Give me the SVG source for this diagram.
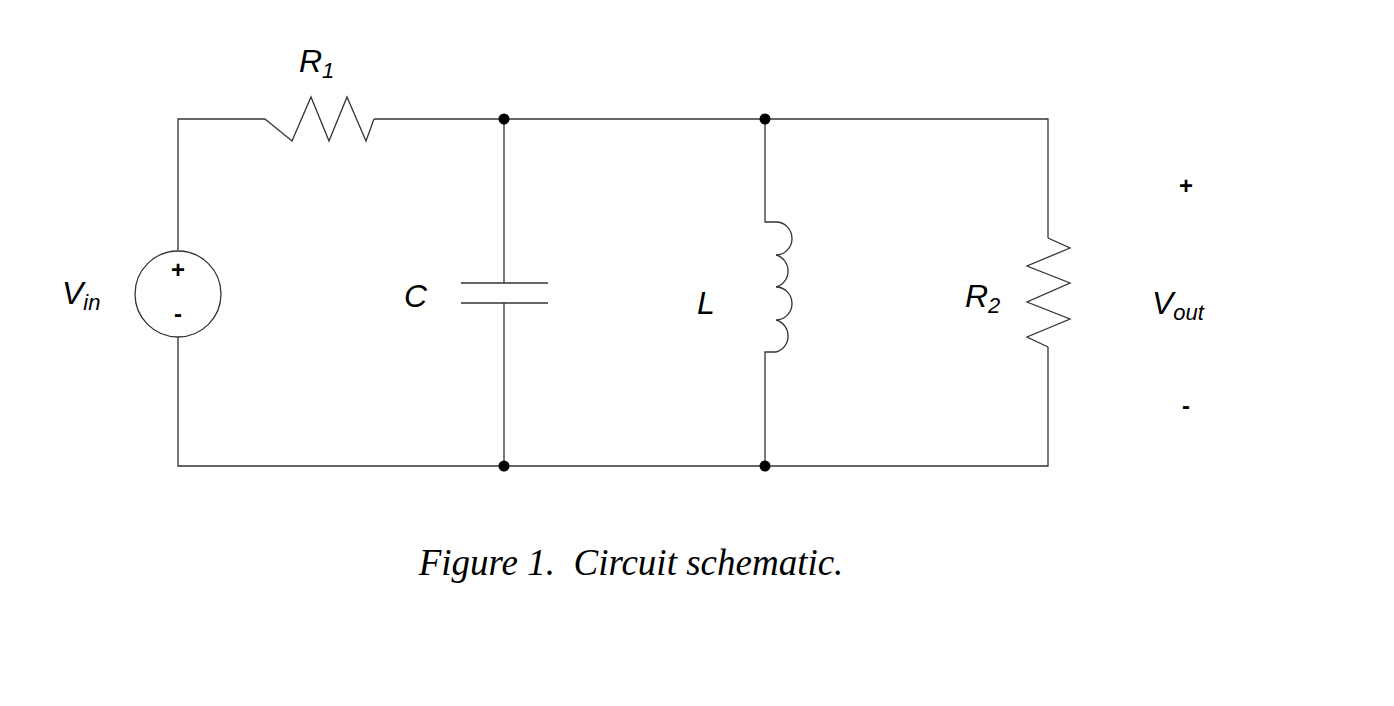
<svg xmlns="http://www.w3.org/2000/svg" width="1394" height="706" viewBox="0 0 1394 706">
<style>
.w{fill:none;stroke:#333;stroke-width:1.3}
.t{font-family:"Liberation Sans",Arial,sans-serif;font-style:italic;font-size:32px;fill:#000}
.s{font-family:"Liberation Sans",Arial,sans-serif;font-size:24px;fill:#000;font-weight:bold}
.d{fill:#000}
</style>
<rect width="1394" height="706" fill="#fff"/>
<g id="connectors">
<path class="w" d="M178,250 V119 H265 M374,119 H1048 V238 M1048,347 V466 H178 V337 M504,119 V283 M504,303 V466 M765,119 V222 H776 M776,352 H765 V466"/>
</g>
<g id="R1"><path class="w" d="M265,119 L292,141 L311,97 L329,141 L347,97 L366,141 L374,119"/><text class="t" x="299" y="72">R<tspan font-size="22" dy="6">1</tspan></text></g>
<g id="Vin"><circle class="w" cx="178" cy="294" r="43"/><text class="s" x="178" y="278" text-anchor="middle">+</text><text class="s" x="178" y="322" text-anchor="middle">-</text><text class="t" x="62" y="304">V<tspan font-size="22" dy="6">in</tspan></text></g>
<g id="C"><path class="w" d="M461,283 H548 M461,303 H548"/><text class="t" x="404" y="307">C</text></g>
<g id="L"><path class="w" d="M776,222 A16,16.5 0 0 1 776,255 A16,16.5 0 0 1 776,287 A16,16.5 0 0 1 776,320 A16,16.5 0 0 1 776,352"/><text class="t" x="697" y="314">L</text></g>
<g id="R2"><path class="w" d="M1048,238 L1070,248 L1027,266 L1070,283 L1027,302 L1070,319 L1027,337 L1048,347"/><text class="t" x="965" y="307">R<tspan font-size="22" dy="6">2</tspan></text></g>
<g id="Vout"><text class="s" x="1186" y="194" text-anchor="middle">+</text><text class="s" x="1186" y="414" text-anchor="middle">-</text><text class="t" x="1152" y="314">V<tspan font-size="22" dy="6">out</tspan></text></g>
<g id="nodes"><circle class="d" cx="504" cy="119" r="5.5"/><circle class="d" cx="765" cy="119" r="5.5"/><circle class="d" cx="504" cy="466" r="5.5"/><circle class="d" cx="765" cy="466" r="5.5"/></g>
<text x="631" y="575" text-anchor="middle" font-family="'Liberation Serif',serif" font-style="italic" font-size="37" xml:space="preserve" style="white-space:pre">Figure 1.  Circuit schematic.</text>
</svg>
